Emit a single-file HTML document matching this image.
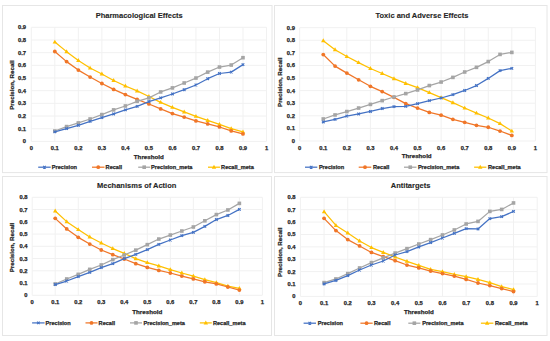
<!DOCTYPE html>
<html><head><meta charset="utf-8"><style>
html,body{margin:0;padding:0;background:#fff;width:550px;height:341px;overflow:hidden}
svg{display:block}
text{font-family:"Liberation Sans",sans-serif;font-weight:bold;fill:#262626;stroke:#262626;stroke-width:0.25px}
.tt{font-size:7.5px;stroke-width:0.12px}
.ax{font-size:6.2px}
.tk{font-size:5.8px}
.lg{font-size:5.6px}
</style></head><body>
<svg width="550" height="341" viewBox="0 0 550 341">
<rect width="550" height="341" fill="#fff"/>
<rect x="2.5" y="5.5" width="269.5" height="167.1" fill="#fff" stroke="#e6e6e6" stroke-width="1"/>
<path d="M31.3 141.4H266.5M31.3 128.72H266.5M31.3 116.04H266.5M31.3 103.37H266.5M31.3 90.69H266.5M31.3 78.01H266.5M31.3 65.33H266.5M31.3 52.66H266.5M31.3 39.98H266.5M31.3 27.3H266.5M31.3 27.3V141.4M54.82 27.3V141.4M78.34 27.3V141.4M101.86 27.3V141.4M125.38 27.3V141.4M148.9 27.3V141.4M172.42 27.3V141.4M195.94 27.3V141.4M219.46 27.3V141.4M242.98 27.3V141.4M266.5 27.3V141.4" stroke="#f1f1f1" stroke-width="1" fill="none"/>
<text x="26.1" y="143.4" class="tk" text-anchor="end">0</text>
<text x="26.1" y="130.72" class="tk" text-anchor="end">0.1</text>
<text x="26.1" y="118.04" class="tk" text-anchor="end">0.2</text>
<text x="26.1" y="105.37" class="tk" text-anchor="end">0.3</text>
<text x="26.1" y="92.69" class="tk" text-anchor="end">0.4</text>
<text x="26.1" y="80.01" class="tk" text-anchor="end">0.5</text>
<text x="26.1" y="67.33" class="tk" text-anchor="end">0.6</text>
<text x="26.1" y="54.66" class="tk" text-anchor="end">0.7</text>
<text x="26.1" y="41.98" class="tk" text-anchor="end">0.8</text>
<text x="26.1" y="29.3" class="tk" text-anchor="end">0.9</text>
<text x="31.3" y="149.6" class="tk" text-anchor="middle">0</text>
<text x="54.82" y="149.6" class="tk" text-anchor="middle">0.1</text>
<text x="78.34" y="149.6" class="tk" text-anchor="middle">0.2</text>
<text x="101.86" y="149.6" class="tk" text-anchor="middle">0.3</text>
<text x="125.38" y="149.6" class="tk" text-anchor="middle">0.4</text>
<text x="148.9" y="149.6" class="tk" text-anchor="middle">0.5</text>
<text x="172.42" y="149.6" class="tk" text-anchor="middle">0.6</text>
<text x="195.94" y="149.6" class="tk" text-anchor="middle">0.7</text>
<text x="219.46" y="149.6" class="tk" text-anchor="middle">0.8</text>
<text x="242.98" y="149.6" class="tk" text-anchor="middle">0.9</text>
<text x="266.5" y="149.6" class="tk" text-anchor="middle">1</text>
<text x="139.2" y="18.1" class="tt" text-anchor="middle">Pharmacological Effects</text>
<text x="148.8" y="158.9" class="ax" text-anchor="middle">Threshold</text>
<text transform="translate(14.1 85) rotate(-90)" class="ax" text-anchor="middle">Precision, Recall</text>
<polyline points="54.82,42.03 66.58,51.63 78.34,60.48 90.1,68.06 101.86,74.01 113.62,80.45 125.38,86.01 137.14,90.94 148.9,96.5 160.66,102.32 172.42,107.37 184.18,111.93 195.94,116.35 207.7,120.39 219.46,124.31 231.22,128.61 242.98,131.9" fill="none" stroke="#FFC000" stroke-width="1.25" stroke-linejoin="round"/>
<path d="M54.82 39.63L57.02 43.53L52.62 43.53Z" fill="#FFC000"/>
<path d="M66.58 49.23L68.78 53.13L64.38 53.13Z" fill="#FFC000"/>
<path d="M78.34 58.08L80.54 61.98L76.14 61.98Z" fill="#FFC000"/>
<path d="M90.1 65.66L92.3 69.56L87.9 69.56Z" fill="#FFC000"/>
<path d="M101.86 71.61L104.06 75.51L99.66 75.51Z" fill="#FFC000"/>
<path d="M113.62 78.05L115.82 81.95L111.42 81.95Z" fill="#FFC000"/>
<path d="M125.38 83.61L127.58 87.51L123.18 87.51Z" fill="#FFC000"/>
<path d="M137.14 88.54L139.34 92.44L134.94 92.44Z" fill="#FFC000"/>
<path d="M148.9 94.1L151.1 98L146.7 98Z" fill="#FFC000"/>
<path d="M160.66 99.92L162.86 103.82L158.46 103.82Z" fill="#FFC000"/>
<path d="M172.42 104.97L174.62 108.87L170.22 108.87Z" fill="#FFC000"/>
<path d="M184.18 109.53L186.38 113.43L181.98 113.43Z" fill="#FFC000"/>
<path d="M195.94 113.95L198.14 117.85L193.74 117.85Z" fill="#FFC000"/>
<path d="M207.7 117.99L209.9 121.89L205.5 121.89Z" fill="#FFC000"/>
<path d="M219.46 121.91L221.66 125.81L217.26 125.81Z" fill="#FFC000"/>
<path d="M231.22 126.21L233.42 130.11L229.02 130.11Z" fill="#FFC000"/>
<path d="M242.98 129.5L245.18 133.4L240.78 133.4Z" fill="#FFC000"/>
<polyline points="54.82,51.51 66.58,61.62 78.34,70.09 90.1,77.04 101.86,83.49 113.62,89.43 125.38,94.61 137.14,99.41 148.9,103.96 160.66,108.89 172.42,113.57 184.18,117.11 195.94,120.9 207.7,123.93 219.46,126.97 231.22,130.89 242.98,133.92" fill="none" stroke="#F07628" stroke-width="1.25" stroke-linejoin="round"/>
<circle cx="54.82" cy="51.51" r="1.9" fill="#F07628"/>
<circle cx="66.58" cy="61.62" r="1.9" fill="#F07628"/>
<circle cx="78.34" cy="70.09" r="1.9" fill="#F07628"/>
<circle cx="90.1" cy="77.04" r="1.9" fill="#F07628"/>
<circle cx="101.86" cy="83.49" r="1.9" fill="#F07628"/>
<circle cx="113.62" cy="89.43" r="1.9" fill="#F07628"/>
<circle cx="125.38" cy="94.61" r="1.9" fill="#F07628"/>
<circle cx="137.14" cy="99.41" r="1.9" fill="#F07628"/>
<circle cx="148.9" cy="103.96" r="1.9" fill="#F07628"/>
<circle cx="160.66" cy="108.89" r="1.9" fill="#F07628"/>
<circle cx="172.42" cy="113.57" r="1.9" fill="#F07628"/>
<circle cx="184.18" cy="117.11" r="1.9" fill="#F07628"/>
<circle cx="195.94" cy="120.9" r="1.9" fill="#F07628"/>
<circle cx="207.7" cy="123.93" r="1.9" fill="#F07628"/>
<circle cx="219.46" cy="126.97" r="1.9" fill="#F07628"/>
<circle cx="231.22" cy="130.89" r="1.9" fill="#F07628"/>
<circle cx="242.98" cy="133.92" r="1.9" fill="#F07628"/>
<polyline points="54.82,131.01 66.58,126.59 78.34,122.92 90.1,119 101.86,114.58 113.62,109.9 125.38,105.98 137.14,101.31 148.9,97.89 160.66,91.95 172.42,87.91 184.18,82.98 195.94,78.05 207.7,72.11 219.46,67.05 231.22,65.03 242.98,57.7" fill="none" stroke="#A5A5A5" stroke-width="1.25" stroke-linejoin="round"/>
<rect x="53.02" y="129.21" width="3.6" height="3.6" fill="#A5A5A5"/>
<rect x="64.78" y="124.79" width="3.6" height="3.6" fill="#A5A5A5"/>
<rect x="76.54" y="121.12" width="3.6" height="3.6" fill="#A5A5A5"/>
<rect x="88.3" y="117.2" width="3.6" height="3.6" fill="#A5A5A5"/>
<rect x="100.06" y="112.78" width="3.6" height="3.6" fill="#A5A5A5"/>
<rect x="111.82" y="108.1" width="3.6" height="3.6" fill="#A5A5A5"/>
<rect x="123.58" y="104.18" width="3.6" height="3.6" fill="#A5A5A5"/>
<rect x="135.34" y="99.51" width="3.6" height="3.6" fill="#A5A5A5"/>
<rect x="147.1" y="96.09" width="3.6" height="3.6" fill="#A5A5A5"/>
<rect x="158.86" y="90.15" width="3.6" height="3.6" fill="#A5A5A5"/>
<rect x="170.62" y="86.11" width="3.6" height="3.6" fill="#A5A5A5"/>
<rect x="182.38" y="81.18" width="3.6" height="3.6" fill="#A5A5A5"/>
<rect x="194.14" y="76.25" width="3.6" height="3.6" fill="#A5A5A5"/>
<rect x="205.9" y="70.31" width="3.6" height="3.6" fill="#A5A5A5"/>
<rect x="217.66" y="65.25" width="3.6" height="3.6" fill="#A5A5A5"/>
<rect x="229.42" y="63.23" width="3.6" height="3.6" fill="#A5A5A5"/>
<rect x="241.18" y="55.9" width="3.6" height="3.6" fill="#A5A5A5"/>
<polyline points="54.82,131.9 66.58,128.61 78.34,125.32 90.1,121.41 101.86,117.61 113.62,113.95 125.38,109.9 137.14,106.36 148.9,101.56 160.66,97.89 172.42,93.98 184.18,89.68 195.94,85 207.7,78.68 219.46,73.5 231.22,72.11 242.98,64.65" fill="none" stroke="#4472C4" stroke-width="1.25" stroke-linejoin="round"/>
<path d="M53.52 130.6L56.12 133.2M53.52 133.2L56.12 130.6" stroke="#4472C4" stroke-width="1.15" fill="none"/>
<path d="M65.28 127.31L67.88 129.91M65.28 129.91L67.88 127.31" stroke="#4472C4" stroke-width="1.15" fill="none"/>
<path d="M77.04 124.02L79.64 126.62M77.04 126.62L79.64 124.02" stroke="#4472C4" stroke-width="1.15" fill="none"/>
<path d="M88.8 120.11L91.4 122.71M88.8 122.71L91.4 120.11" stroke="#4472C4" stroke-width="1.15" fill="none"/>
<path d="M100.56 116.31L103.16 118.91M100.56 118.91L103.16 116.31" stroke="#4472C4" stroke-width="1.15" fill="none"/>
<path d="M112.32 112.65L114.92 115.25M112.32 115.25L114.92 112.65" stroke="#4472C4" stroke-width="1.15" fill="none"/>
<path d="M124.08 108.6L126.68 111.2M124.08 111.2L126.68 108.6" stroke="#4472C4" stroke-width="1.15" fill="none"/>
<path d="M135.84 105.06L138.44 107.66M135.84 107.66L138.44 105.06" stroke="#4472C4" stroke-width="1.15" fill="none"/>
<path d="M147.6 100.26L150.2 102.86M147.6 102.86L150.2 100.26" stroke="#4472C4" stroke-width="1.15" fill="none"/>
<path d="M159.36 96.59L161.96 99.19M159.36 99.19L161.96 96.59" stroke="#4472C4" stroke-width="1.15" fill="none"/>
<path d="M171.12 92.68L173.72 95.28M171.12 95.28L173.72 92.68" stroke="#4472C4" stroke-width="1.15" fill="none"/>
<path d="M182.88 88.38L185.48 90.98M182.88 90.98L185.48 88.38" stroke="#4472C4" stroke-width="1.15" fill="none"/>
<path d="M194.64 83.7L197.24 86.3M194.64 86.3L197.24 83.7" stroke="#4472C4" stroke-width="1.15" fill="none"/>
<path d="M206.4 77.38L209 79.98M206.4 79.98L209 77.38" stroke="#4472C4" stroke-width="1.15" fill="none"/>
<path d="M218.16 72.2L220.76 74.8M218.16 74.8L220.76 72.2" stroke="#4472C4" stroke-width="1.15" fill="none"/>
<path d="M229.92 70.81L232.52 73.41M229.92 73.41L232.52 70.81" stroke="#4472C4" stroke-width="1.15" fill="none"/>
<path d="M241.68 63.35L244.28 65.95M241.68 65.95L244.28 63.35" stroke="#4472C4" stroke-width="1.15" fill="none"/>
<path d="M38.2 167.2H50.7" stroke="#4472C4" stroke-width="1.25"/>
<path d="M43.15 165.9L45.75 168.5M43.15 168.5L45.75 165.9" stroke="#4472C4" stroke-width="1.15" fill="none"/>
<text x="51.8" y="169.2" class="lg">Precision</text>
<path d="M92 167.2H104.5" stroke="#F07628" stroke-width="1.25"/>
<circle cx="98.25" cy="167.2" r="1.9" fill="#F07628"/>
<text x="105.6" y="169.2" class="lg">Recall</text>
<path d="M138.2 167.2H150.2" stroke="#A5A5A5" stroke-width="1.25"/>
<rect x="142.4" y="165.4" width="3.6" height="3.6" fill="#A5A5A5"/>
<text x="151" y="169.2" class="lg">Precision_meta</text>
<path d="M208 167.2H220" stroke="#FFC000" stroke-width="1.25"/>
<path d="M214 164.8L216.2 168.7L211.8 168.7Z" fill="#FFC000"/>
<text x="221.1" y="169.2" class="lg">Recall_meta</text>
<rect x="274.5" y="5.5" width="272.5" height="167.1" fill="#fff" stroke="#e6e6e6" stroke-width="1"/>
<path d="M299.7 141H535.4M299.7 128.41H535.4M299.7 115.82H535.4M299.7 103.23H535.4M299.7 90.64H535.4M299.7 78.06H535.4M299.7 65.47H535.4M299.7 52.88H535.4M299.7 40.29H535.4M299.7 27.7H535.4M299.7 27.7V141M323.27 27.7V141M346.84 27.7V141M370.41 27.7V141M393.98 27.7V141M417.55 27.7V141M441.12 27.7V141M464.69 27.7V141M488.26 27.7V141M511.83 27.7V141M535.4 27.7V141" stroke="#f1f1f1" stroke-width="1" fill="none"/>
<text x="294.9" y="143" class="tk" text-anchor="end">0</text>
<text x="294.9" y="130.41" class="tk" text-anchor="end">0.1</text>
<text x="294.9" y="117.82" class="tk" text-anchor="end">0.2</text>
<text x="294.9" y="105.23" class="tk" text-anchor="end">0.3</text>
<text x="294.9" y="92.64" class="tk" text-anchor="end">0.4</text>
<text x="294.9" y="80.06" class="tk" text-anchor="end">0.5</text>
<text x="294.9" y="67.47" class="tk" text-anchor="end">0.6</text>
<text x="294.9" y="54.88" class="tk" text-anchor="end">0.7</text>
<text x="294.9" y="42.29" class="tk" text-anchor="end">0.8</text>
<text x="294.9" y="29.7" class="tk" text-anchor="end">0.9</text>
<text x="299.7" y="149.6" class="tk" text-anchor="middle">0</text>
<text x="323.27" y="149.6" class="tk" text-anchor="middle">0.1</text>
<text x="346.84" y="149.6" class="tk" text-anchor="middle">0.2</text>
<text x="370.41" y="149.6" class="tk" text-anchor="middle">0.3</text>
<text x="393.98" y="149.6" class="tk" text-anchor="middle">0.4</text>
<text x="417.55" y="149.6" class="tk" text-anchor="middle">0.5</text>
<text x="441.12" y="149.6" class="tk" text-anchor="middle">0.6</text>
<text x="464.69" y="149.6" class="tk" text-anchor="middle">0.7</text>
<text x="488.26" y="149.6" class="tk" text-anchor="middle">0.8</text>
<text x="511.83" y="149.6" class="tk" text-anchor="middle">0.9</text>
<text x="535.4" y="149.6" class="tk" text-anchor="middle">1</text>
<text x="422" y="18.1" class="tt" text-anchor="middle">Toxic and Adverse Effects</text>
<text x="416.7" y="157.7" class="ax" text-anchor="middle">Threshold</text>
<text transform="translate(281.7 82.2) rotate(-90)" class="ax" text-anchor="middle">Precision, Recall</text>
<polyline points="323.27,40.72 335.06,49.76 346.84,56.55 358.62,62.57 370.41,68.48 382.19,73.5 393.98,78.65 405.76,83.42 417.55,87.57 429.33,92.59 441.12,97.62 452.9,102.64 464.69,108.04 476.47,113.07 488.26,117.96 500.04,123.62 511.83,131.03" fill="none" stroke="#FFC000" stroke-width="1.25" stroke-linejoin="round"/>
<path d="M323.27 38.32L325.47 42.22L321.07 42.22Z" fill="#FFC000"/>
<path d="M335.06 47.36L337.25 51.26L332.86 51.26Z" fill="#FFC000"/>
<path d="M346.84 54.15L349.04 58.05L344.64 58.05Z" fill="#FFC000"/>
<path d="M358.62 60.17L360.82 64.07L356.43 64.07Z" fill="#FFC000"/>
<path d="M370.41 66.08L372.61 69.98L368.21 69.98Z" fill="#FFC000"/>
<path d="M382.19 71.1L384.39 75L380 75Z" fill="#FFC000"/>
<path d="M393.98 76.25L396.18 80.15L391.78 80.15Z" fill="#FFC000"/>
<path d="M405.76 81.02L407.96 84.92L403.56 84.92Z" fill="#FFC000"/>
<path d="M417.55 85.17L419.75 89.07L415.35 89.07Z" fill="#FFC000"/>
<path d="M429.33 90.19L431.53 94.09L427.13 94.09Z" fill="#FFC000"/>
<path d="M441.12 95.22L443.32 99.12L438.92 99.12Z" fill="#FFC000"/>
<path d="M452.9 100.24L455.1 104.14L450.7 104.14Z" fill="#FFC000"/>
<path d="M464.69 105.64L466.89 109.54L462.49 109.54Z" fill="#FFC000"/>
<path d="M476.47 110.67L478.67 114.57L474.27 114.57Z" fill="#FFC000"/>
<path d="M488.26 115.56L490.46 119.46L486.06 119.46Z" fill="#FFC000"/>
<path d="M500.04 121.22L502.24 125.12L497.84 125.12Z" fill="#FFC000"/>
<path d="M511.83 128.63L514.03 132.53L509.63 132.53Z" fill="#FFC000"/>
<polyline points="323.27,54.54 335.06,66.09 346.84,73.12 358.62,79.78 370.41,86.31 382.19,91.59 393.98,97.37 405.76,103.65 417.55,108.04 429.33,112.44 441.12,115.2 452.9,119.35 464.69,122.36 476.47,125.37 488.26,127.26 500.04,131.03 511.83,135.42" fill="none" stroke="#F07628" stroke-width="1.25" stroke-linejoin="round"/>
<circle cx="323.27" cy="54.54" r="1.9" fill="#F07628"/>
<circle cx="335.06" cy="66.09" r="1.9" fill="#F07628"/>
<circle cx="346.84" cy="73.12" r="1.9" fill="#F07628"/>
<circle cx="358.62" cy="79.78" r="1.9" fill="#F07628"/>
<circle cx="370.41" cy="86.31" r="1.9" fill="#F07628"/>
<circle cx="382.19" cy="91.59" r="1.9" fill="#F07628"/>
<circle cx="393.98" cy="97.37" r="1.9" fill="#F07628"/>
<circle cx="405.76" cy="103.65" r="1.9" fill="#F07628"/>
<circle cx="417.55" cy="108.04" r="1.9" fill="#F07628"/>
<circle cx="429.33" cy="112.44" r="1.9" fill="#F07628"/>
<circle cx="441.12" cy="115.2" r="1.9" fill="#F07628"/>
<circle cx="452.9" cy="119.35" r="1.9" fill="#F07628"/>
<circle cx="464.69" cy="122.36" r="1.9" fill="#F07628"/>
<circle cx="476.47" cy="125.37" r="1.9" fill="#F07628"/>
<circle cx="488.26" cy="127.26" r="1.9" fill="#F07628"/>
<circle cx="500.04" cy="131.03" r="1.9" fill="#F07628"/>
<circle cx="511.83" cy="135.42" r="1.9" fill="#F07628"/>
<polyline points="323.27,118.97 335.06,114.95 346.84,111.56 358.62,108.04 370.41,104.4 382.19,100.63 393.98,96.99 405.76,93.6 417.55,89.96 429.33,85.56 441.12,82.04 452.9,77.4 464.69,71.99 476.47,67.35 488.26,61.57 500.04,54.41 511.83,52.4" fill="none" stroke="#A5A5A5" stroke-width="1.25" stroke-linejoin="round"/>
<rect x="321.47" y="117.17" width="3.6" height="3.6" fill="#A5A5A5"/>
<rect x="333.25" y="113.15" width="3.6" height="3.6" fill="#A5A5A5"/>
<rect x="345.04" y="109.76" width="3.6" height="3.6" fill="#A5A5A5"/>
<rect x="356.82" y="106.24" width="3.6" height="3.6" fill="#A5A5A5"/>
<rect x="368.61" y="102.6" width="3.6" height="3.6" fill="#A5A5A5"/>
<rect x="380.39" y="98.83" width="3.6" height="3.6" fill="#A5A5A5"/>
<rect x="392.18" y="95.19" width="3.6" height="3.6" fill="#A5A5A5"/>
<rect x="403.96" y="91.8" width="3.6" height="3.6" fill="#A5A5A5"/>
<rect x="415.75" y="88.16" width="3.6" height="3.6" fill="#A5A5A5"/>
<rect x="427.53" y="83.76" width="3.6" height="3.6" fill="#A5A5A5"/>
<rect x="439.32" y="80.24" width="3.6" height="3.6" fill="#A5A5A5"/>
<rect x="451.1" y="75.6" width="3.6" height="3.6" fill="#A5A5A5"/>
<rect x="462.89" y="70.19" width="3.6" height="3.6" fill="#A5A5A5"/>
<rect x="474.67" y="65.55" width="3.6" height="3.6" fill="#A5A5A5"/>
<rect x="486.46" y="59.77" width="3.6" height="3.6" fill="#A5A5A5"/>
<rect x="498.24" y="52.61" width="3.6" height="3.6" fill="#A5A5A5"/>
<rect x="510.03" y="50.6" width="3.6" height="3.6" fill="#A5A5A5"/>
<polyline points="323.27,121.98 335.06,119.35 346.84,116.08 358.62,113.94 370.41,111.43 382.19,108.54 393.98,106.66 405.76,106.41 417.55,103.65 429.33,100.63 441.12,97.99 452.9,94.6 464.69,90.46 476.47,85.56 488.26,78.4 500.04,70.61 511.83,68.35" fill="none" stroke="#4472C4" stroke-width="1.25" stroke-linejoin="round"/>
<path d="M321.97 120.68L324.57 123.28M321.97 123.28L324.57 120.68" stroke="#4472C4" stroke-width="1.15" fill="none"/>
<path d="M333.75 118.05L336.36 120.65M333.75 120.65L336.36 118.05" stroke="#4472C4" stroke-width="1.15" fill="none"/>
<path d="M345.54 114.78L348.14 117.38M345.54 117.38L348.14 114.78" stroke="#4472C4" stroke-width="1.15" fill="none"/>
<path d="M357.32 112.64L359.93 115.24M357.32 115.24L359.93 112.64" stroke="#4472C4" stroke-width="1.15" fill="none"/>
<path d="M369.11 110.13L371.71 112.73M369.11 112.73L371.71 110.13" stroke="#4472C4" stroke-width="1.15" fill="none"/>
<path d="M380.89 107.24L383.5 109.84M380.89 109.84L383.5 107.24" stroke="#4472C4" stroke-width="1.15" fill="none"/>
<path d="M392.68 105.36L395.28 107.96M392.68 107.96L395.28 105.36" stroke="#4472C4" stroke-width="1.15" fill="none"/>
<path d="M404.46 105.11L407.06 107.71M404.46 107.71L407.06 105.11" stroke="#4472C4" stroke-width="1.15" fill="none"/>
<path d="M416.25 102.35L418.85 104.95M416.25 104.95L418.85 102.35" stroke="#4472C4" stroke-width="1.15" fill="none"/>
<path d="M428.03 99.33L430.63 101.93M428.03 101.93L430.63 99.33" stroke="#4472C4" stroke-width="1.15" fill="none"/>
<path d="M439.82 96.69L442.42 99.29M439.82 99.29L442.42 96.69" stroke="#4472C4" stroke-width="1.15" fill="none"/>
<path d="M451.6 93.3L454.2 95.9M451.6 95.9L454.2 93.3" stroke="#4472C4" stroke-width="1.15" fill="none"/>
<path d="M463.39 89.16L465.99 91.76M463.39 91.76L465.99 89.16" stroke="#4472C4" stroke-width="1.15" fill="none"/>
<path d="M475.17 84.26L477.77 86.86M475.17 86.86L477.77 84.26" stroke="#4472C4" stroke-width="1.15" fill="none"/>
<path d="M486.96 77.1L489.56 79.7M486.96 79.7L489.56 77.1" stroke="#4472C4" stroke-width="1.15" fill="none"/>
<path d="M498.74 69.31L501.34 71.91M498.74 71.91L501.34 69.31" stroke="#4472C4" stroke-width="1.15" fill="none"/>
<path d="M510.53 67.05L513.13 69.65M510.53 69.65L513.13 67.05" stroke="#4472C4" stroke-width="1.15" fill="none"/>
<path d="M305 167.2H317.3" stroke="#4472C4" stroke-width="1.25"/>
<path d="M309.85 165.9L312.45 168.5M309.85 168.5L312.45 165.9" stroke="#4472C4" stroke-width="1.15" fill="none"/>
<text x="318.9" y="169.2" class="lg">Precision</text>
<path d="M358.7 167.2H371.3" stroke="#F07628" stroke-width="1.25"/>
<circle cx="365" cy="167.2" r="1.9" fill="#F07628"/>
<text x="372.9" y="169.2" class="lg">Recall</text>
<path d="M404 167.2H416.5" stroke="#A5A5A5" stroke-width="1.25"/>
<rect x="408.45" y="165.4" width="3.6" height="3.6" fill="#A5A5A5"/>
<text x="417.9" y="169.2" class="lg">Precision_meta</text>
<path d="M474.1 167.2H486.4" stroke="#FFC000" stroke-width="1.25"/>
<path d="M480.25 164.8L482.45 168.7L478.05 168.7Z" fill="#FFC000"/>
<text x="488" y="169.2" class="lg">Recall_meta</text>
<rect x="2.5" y="176.5" width="269" height="159" fill="#fff" stroke="#e6e6e6" stroke-width="1"/>
<path d="M32.2 295.3H262.4M32.2 283.05H262.4M32.2 270.8H262.4M32.2 258.55H262.4M32.2 246.3H262.4M32.2 234.05H262.4M32.2 221.8H262.4M32.2 209.55H262.4M32.2 197.3H262.4M32.2 197.3V295.3M55.22 197.3V295.3M78.24 197.3V295.3M101.26 197.3V295.3M124.28 197.3V295.3M147.3 197.3V295.3M170.32 197.3V295.3M193.34 197.3V295.3M216.36 197.3V295.3M239.38 197.3V295.3M262.4 197.3V295.3" stroke="#f1f1f1" stroke-width="1" fill="none"/>
<text x="27.6" y="297.3" class="tk" text-anchor="end">0</text>
<text x="27.6" y="285.05" class="tk" text-anchor="end">0.1</text>
<text x="27.6" y="272.8" class="tk" text-anchor="end">0.2</text>
<text x="27.6" y="260.55" class="tk" text-anchor="end">0.3</text>
<text x="27.6" y="248.3" class="tk" text-anchor="end">0.4</text>
<text x="27.6" y="236.05" class="tk" text-anchor="end">0.5</text>
<text x="27.6" y="223.8" class="tk" text-anchor="end">0.6</text>
<text x="27.6" y="211.55" class="tk" text-anchor="end">0.7</text>
<text x="27.6" y="199.3" class="tk" text-anchor="end">0.8</text>
<text x="32.2" y="304.2" class="tk" text-anchor="middle">0</text>
<text x="55.22" y="304.2" class="tk" text-anchor="middle">0.1</text>
<text x="78.24" y="304.2" class="tk" text-anchor="middle">0.2</text>
<text x="101.26" y="304.2" class="tk" text-anchor="middle">0.3</text>
<text x="124.28" y="304.2" class="tk" text-anchor="middle">0.4</text>
<text x="147.3" y="304.2" class="tk" text-anchor="middle">0.5</text>
<text x="170.32" y="304.2" class="tk" text-anchor="middle">0.6</text>
<text x="193.34" y="304.2" class="tk" text-anchor="middle">0.7</text>
<text x="216.36" y="304.2" class="tk" text-anchor="middle">0.8</text>
<text x="239.38" y="304.2" class="tk" text-anchor="middle">0.9</text>
<text x="262.4" y="304.2" class="tk" text-anchor="middle">1</text>
<text x="136.7" y="188.2" class="tt" text-anchor="middle">Mechanisms of Action</text>
<text x="147.25" y="313.8" class="ax" text-anchor="middle">Threshold</text>
<text transform="translate(14.1 247.5) rotate(-90)" class="ax" text-anchor="middle">Precision, Recall</text>
<polyline points="55.22,210.94 66.73,221.65 78.24,229.56 89.75,236.98 101.26,242.95 112.77,248.55 124.28,253.41 135.79,258.65 147.3,262.54 158.81,265.95 170.32,269.6 181.83,273.01 193.34,276.05 204.85,279.7 216.36,282.62 227.87,286.03 239.38,288.34" fill="none" stroke="#FFC000" stroke-width="1.25" stroke-linejoin="round"/>
<path d="M55.22 208.54L57.42 212.44L53.02 212.44Z" fill="#FFC000"/>
<path d="M66.73 219.25L68.93 223.15L64.53 223.15Z" fill="#FFC000"/>
<path d="M78.24 227.16L80.44 231.06L76.04 231.06Z" fill="#FFC000"/>
<path d="M89.75 234.58L91.95 238.48L87.55 238.48Z" fill="#FFC000"/>
<path d="M101.26 240.55L103.46 244.45L99.06 244.45Z" fill="#FFC000"/>
<path d="M112.77 246.15L114.97 250.05L110.57 250.05Z" fill="#FFC000"/>
<path d="M124.28 251.01L126.48 254.91L122.08 254.91Z" fill="#FFC000"/>
<path d="M135.79 256.25L137.99 260.15L133.59 260.15Z" fill="#FFC000"/>
<path d="M147.3 260.14L149.5 264.04L145.1 264.04Z" fill="#FFC000"/>
<path d="M158.81 263.55L161.01 267.45L156.61 267.45Z" fill="#FFC000"/>
<path d="M170.32 267.2L172.52 271.1L168.12 271.1Z" fill="#FFC000"/>
<path d="M181.83 270.61L184.03 274.51L179.63 274.51Z" fill="#FFC000"/>
<path d="M193.34 273.65L195.54 277.55L191.14 277.55Z" fill="#FFC000"/>
<path d="M204.85 277.3L207.05 281.2L202.65 281.2Z" fill="#FFC000"/>
<path d="M216.36 280.22L218.56 284.12L214.16 284.12Z" fill="#FFC000"/>
<path d="M227.87 283.63L230.07 287.53L225.67 287.53Z" fill="#FFC000"/>
<path d="M239.38 285.94L241.58 289.84L237.18 289.84Z" fill="#FFC000"/>
<polyline points="55.22,218.36 66.73,228.95 78.24,237.35 89.75,244.04 101.26,250.01 112.77,254.63 124.28,259.01 135.79,263.64 147.3,267.41 158.81,270.45 170.32,273.01 181.83,276.05 193.34,278.97 204.85,281.77 216.36,283.96 227.87,287 239.38,290.05" fill="none" stroke="#F07628" stroke-width="1.25" stroke-linejoin="round"/>
<circle cx="55.22" cy="218.36" r="1.9" fill="#F07628"/>
<circle cx="66.73" cy="228.95" r="1.9" fill="#F07628"/>
<circle cx="78.24" cy="237.35" r="1.9" fill="#F07628"/>
<circle cx="89.75" cy="244.04" r="1.9" fill="#F07628"/>
<circle cx="101.26" cy="250.01" r="1.9" fill="#F07628"/>
<circle cx="112.77" cy="254.63" r="1.9" fill="#F07628"/>
<circle cx="124.28" cy="259.01" r="1.9" fill="#F07628"/>
<circle cx="135.79" cy="263.64" r="1.9" fill="#F07628"/>
<circle cx="147.3" cy="267.41" r="1.9" fill="#F07628"/>
<circle cx="158.81" cy="270.45" r="1.9" fill="#F07628"/>
<circle cx="170.32" cy="273.01" r="1.9" fill="#F07628"/>
<circle cx="181.83" cy="276.05" r="1.9" fill="#F07628"/>
<circle cx="193.34" cy="278.97" r="1.9" fill="#F07628"/>
<circle cx="204.85" cy="281.77" r="1.9" fill="#F07628"/>
<circle cx="216.36" cy="283.96" r="1.9" fill="#F07628"/>
<circle cx="227.87" cy="287" r="1.9" fill="#F07628"/>
<circle cx="239.38" cy="290.05" r="1.9" fill="#F07628"/>
<polyline points="55.22,283.96 66.73,278.97 78.24,274.35 89.75,269.36 101.26,264.97 112.77,259.62 124.28,255 135.79,250.13 147.3,244.65 158.81,239.05 170.32,235.04 181.83,231.02 193.34,227 204.85,220.8 216.36,214.59 227.87,209.97 239.38,203.39" fill="none" stroke="#A5A5A5" stroke-width="1.25" stroke-linejoin="round"/>
<rect x="53.42" y="282.16" width="3.6" height="3.6" fill="#A5A5A5"/>
<rect x="64.93" y="277.17" width="3.6" height="3.6" fill="#A5A5A5"/>
<rect x="76.44" y="272.55" width="3.6" height="3.6" fill="#A5A5A5"/>
<rect x="87.95" y="267.56" width="3.6" height="3.6" fill="#A5A5A5"/>
<rect x="99.46" y="263.17" width="3.6" height="3.6" fill="#A5A5A5"/>
<rect x="110.97" y="257.82" width="3.6" height="3.6" fill="#A5A5A5"/>
<rect x="122.48" y="253.2" width="3.6" height="3.6" fill="#A5A5A5"/>
<rect x="133.99" y="248.33" width="3.6" height="3.6" fill="#A5A5A5"/>
<rect x="145.5" y="242.85" width="3.6" height="3.6" fill="#A5A5A5"/>
<rect x="157.01" y="237.25" width="3.6" height="3.6" fill="#A5A5A5"/>
<rect x="168.52" y="233.24" width="3.6" height="3.6" fill="#A5A5A5"/>
<rect x="180.03" y="229.22" width="3.6" height="3.6" fill="#A5A5A5"/>
<rect x="191.54" y="225.2" width="3.6" height="3.6" fill="#A5A5A5"/>
<rect x="203.05" y="219" width="3.6" height="3.6" fill="#A5A5A5"/>
<rect x="214.56" y="212.79" width="3.6" height="3.6" fill="#A5A5A5"/>
<rect x="226.07" y="208.17" width="3.6" height="3.6" fill="#A5A5A5"/>
<rect x="237.58" y="201.59" width="3.6" height="3.6" fill="#A5A5A5"/>
<polyline points="55.22,284.57 66.73,281.04 78.24,276.66 89.75,272.4 101.26,267.65 112.77,263.64 124.28,258.65 135.79,254.39 147.3,249.64 158.81,244.41 170.32,240.03 181.83,235.65 193.34,232.36 204.85,226.4 216.36,219.58 227.87,215.44 239.38,209.36" fill="none" stroke="#4472C4" stroke-width="1.25" stroke-linejoin="round"/>
<path d="M53.92 283.27L56.52 285.87M53.92 285.87L56.52 283.27" stroke="#4472C4" stroke-width="1.15" fill="none"/>
<path d="M65.43 279.74L68.03 282.34M65.43 282.34L68.03 279.74" stroke="#4472C4" stroke-width="1.15" fill="none"/>
<path d="M76.94 275.36L79.54 277.96M76.94 277.96L79.54 275.36" stroke="#4472C4" stroke-width="1.15" fill="none"/>
<path d="M88.45 271.1L91.05 273.7M88.45 273.7L91.05 271.1" stroke="#4472C4" stroke-width="1.15" fill="none"/>
<path d="M99.96 266.35L102.56 268.95M99.96 268.95L102.56 266.35" stroke="#4472C4" stroke-width="1.15" fill="none"/>
<path d="M111.47 262.34L114.07 264.94M111.47 264.94L114.07 262.34" stroke="#4472C4" stroke-width="1.15" fill="none"/>
<path d="M122.98 257.35L125.58 259.95M122.98 259.95L125.58 257.35" stroke="#4472C4" stroke-width="1.15" fill="none"/>
<path d="M134.49 253.09L137.09 255.69M134.49 255.69L137.09 253.09" stroke="#4472C4" stroke-width="1.15" fill="none"/>
<path d="M146 248.34L148.6 250.94M146 250.94L148.6 248.34" stroke="#4472C4" stroke-width="1.15" fill="none"/>
<path d="M157.51 243.11L160.11 245.71M157.51 245.71L160.11 243.11" stroke="#4472C4" stroke-width="1.15" fill="none"/>
<path d="M169.02 238.73L171.62 241.33M169.02 241.33L171.62 238.73" stroke="#4472C4" stroke-width="1.15" fill="none"/>
<path d="M180.53 234.35L183.13 236.95M180.53 236.95L183.13 234.35" stroke="#4472C4" stroke-width="1.15" fill="none"/>
<path d="M192.04 231.06L194.64 233.66M192.04 233.66L194.64 231.06" stroke="#4472C4" stroke-width="1.15" fill="none"/>
<path d="M203.55 225.1L206.15 227.7M203.55 227.7L206.15 225.1" stroke="#4472C4" stroke-width="1.15" fill="none"/>
<path d="M215.06 218.28L217.66 220.88M215.06 220.88L217.66 218.28" stroke="#4472C4" stroke-width="1.15" fill="none"/>
<path d="M226.57 214.14L229.17 216.74M226.57 216.74L229.17 214.14" stroke="#4472C4" stroke-width="1.15" fill="none"/>
<path d="M238.08 208.06L240.68 210.66M238.08 210.66L240.68 208.06" stroke="#4472C4" stroke-width="1.15" fill="none"/>
<path d="M32.1 322.9H44.6" stroke="#4472C4" stroke-width="1.25"/>
<path d="M37.05 321.6L39.65 324.2M37.05 324.2L39.65 321.6" stroke="#4472C4" stroke-width="1.15" fill="none"/>
<text x="45.5" y="324.9" class="lg">Precision</text>
<path d="M85.5 322.9H97.5" stroke="#F07628" stroke-width="1.25"/>
<circle cx="91.5" cy="322.9" r="1.9" fill="#F07628"/>
<text x="98.6" y="324.9" class="lg">Recall</text>
<path d="M130 322.9H142" stroke="#A5A5A5" stroke-width="1.25"/>
<rect x="134.2" y="321.1" width="3.6" height="3.6" fill="#A5A5A5"/>
<text x="143.6" y="324.9" class="lg">Precision_meta</text>
<path d="M199.8 322.9H211.8" stroke="#FFC000" stroke-width="1.25"/>
<path d="M205.8 320.5L208 324.4L203.6 324.4Z" fill="#FFC000"/>
<text x="212.9" y="324.9" class="lg">Recall_meta</text>
<rect x="274.5" y="176.5" width="272.5" height="159" fill="#fff" stroke="#e6e6e6" stroke-width="1"/>
<path d="M300.4 296.4H537.2M300.4 284.01H537.2M300.4 271.62H537.2M300.4 259.24H537.2M300.4 246.85H537.2M300.4 234.46H537.2M300.4 222.07H537.2M300.4 209.69H537.2M300.4 197.3H537.2M300.4 197.3V296.4M324.08 197.3V296.4M347.76 197.3V296.4M371.44 197.3V296.4M395.12 197.3V296.4M418.8 197.3V296.4M442.48 197.3V296.4M466.16 197.3V296.4M489.84 197.3V296.4M513.52 197.3V296.4M537.2 197.3V296.4" stroke="#f1f1f1" stroke-width="1" fill="none"/>
<text x="295.6" y="298.4" class="tk" text-anchor="end">0</text>
<text x="295.6" y="286.01" class="tk" text-anchor="end">0.1</text>
<text x="295.6" y="273.62" class="tk" text-anchor="end">0.2</text>
<text x="295.6" y="261.24" class="tk" text-anchor="end">0.3</text>
<text x="295.6" y="248.85" class="tk" text-anchor="end">0.4</text>
<text x="295.6" y="236.46" class="tk" text-anchor="end">0.5</text>
<text x="295.6" y="224.07" class="tk" text-anchor="end">0.6</text>
<text x="295.6" y="211.69" class="tk" text-anchor="end">0.7</text>
<text x="295.6" y="199.3" class="tk" text-anchor="end">0.8</text>
<text x="300.4" y="304.6" class="tk" text-anchor="middle">0</text>
<text x="324.08" y="304.6" class="tk" text-anchor="middle">0.1</text>
<text x="347.76" y="304.6" class="tk" text-anchor="middle">0.2</text>
<text x="371.44" y="304.6" class="tk" text-anchor="middle">0.3</text>
<text x="395.12" y="304.6" class="tk" text-anchor="middle">0.4</text>
<text x="418.8" y="304.6" class="tk" text-anchor="middle">0.5</text>
<text x="442.48" y="304.6" class="tk" text-anchor="middle">0.6</text>
<text x="466.16" y="304.6" class="tk" text-anchor="middle">0.7</text>
<text x="489.84" y="304.6" class="tk" text-anchor="middle">0.8</text>
<text x="513.52" y="304.6" class="tk" text-anchor="middle">0.9</text>
<text x="537.2" y="304.6" class="tk" text-anchor="middle">1</text>
<text x="410.6" y="187.6" class="tt" text-anchor="middle">Antitargets</text>
<text x="418.9" y="313.8" class="ax" text-anchor="middle">Threshold</text>
<text transform="translate(281.8 252.2) rotate(-90)" class="ax" text-anchor="middle">Precision, Recall</text>
<polyline points="324.08,211.63 335.92,225.44 347.76,233.01 359.6,240.95 371.44,247.55 383.28,252.44 395.12,256.96 406.96,261.36 418.8,265.39 430.64,269.43 442.48,271.63 454.32,274.44 466.16,276.64 478,279.45 489.84,282.62 501.68,286.66 513.52,289.59" fill="none" stroke="#FFC000" stroke-width="1.25" stroke-linejoin="round"/>
<path d="M324.08 209.23L326.28 213.13L321.88 213.13Z" fill="#FFC000"/>
<path d="M335.92 223.03L338.12 226.94L333.72 226.94Z" fill="#FFC000"/>
<path d="M347.76 230.61L349.96 234.51L345.56 234.51Z" fill="#FFC000"/>
<path d="M359.6 238.55L361.8 242.45L357.4 242.45Z" fill="#FFC000"/>
<path d="M371.44 245.15L373.64 249.05L369.24 249.05Z" fill="#FFC000"/>
<path d="M383.28 250.04L385.48 253.94L381.08 253.94Z" fill="#FFC000"/>
<path d="M395.12 254.56L397.32 258.46L392.92 258.46Z" fill="#FFC000"/>
<path d="M406.96 258.96L409.16 262.86L404.76 262.86Z" fill="#FFC000"/>
<path d="M418.8 262.99L421 266.89L416.6 266.89Z" fill="#FFC000"/>
<path d="M430.64 267.03L432.84 270.93L428.44 270.93Z" fill="#FFC000"/>
<path d="M442.48 269.23L444.68 273.13L440.28 273.13Z" fill="#FFC000"/>
<path d="M454.32 272.04L456.52 275.94L452.12 275.94Z" fill="#FFC000"/>
<path d="M466.16 274.24L468.36 278.14L463.96 278.14Z" fill="#FFC000"/>
<path d="M478 277.05L480.2 280.95L475.8 280.95Z" fill="#FFC000"/>
<path d="M489.84 280.22L492.04 284.12L487.64 284.12Z" fill="#FFC000"/>
<path d="M501.68 284.26L503.88 288.16L499.48 288.16Z" fill="#FFC000"/>
<path d="M513.52 287.19L515.72 291.09L511.32 291.09Z" fill="#FFC000"/>
<polyline points="324.08,218.35 335.92,230.57 347.76,239.61 359.6,245.96 371.44,252.44 383.28,256.6 395.12,260.63 406.96,265.03 418.8,267.96 430.64,271.02 442.48,273.58 454.32,276.03 466.16,279.45 478,282.99 489.84,285.56 501.68,288.61 513.52,291.55" fill="none" stroke="#F07628" stroke-width="1.25" stroke-linejoin="round"/>
<circle cx="324.08" cy="218.35" r="1.9" fill="#F07628"/>
<circle cx="335.92" cy="230.57" r="1.9" fill="#F07628"/>
<circle cx="347.76" cy="239.61" r="1.9" fill="#F07628"/>
<circle cx="359.6" cy="245.96" r="1.9" fill="#F07628"/>
<circle cx="371.44" cy="252.44" r="1.9" fill="#F07628"/>
<circle cx="383.28" cy="256.6" r="1.9" fill="#F07628"/>
<circle cx="395.12" cy="260.63" r="1.9" fill="#F07628"/>
<circle cx="406.96" cy="265.03" r="1.9" fill="#F07628"/>
<circle cx="418.8" cy="267.96" r="1.9" fill="#F07628"/>
<circle cx="430.64" cy="271.02" r="1.9" fill="#F07628"/>
<circle cx="442.48" cy="273.58" r="1.9" fill="#F07628"/>
<circle cx="454.32" cy="276.03" r="1.9" fill="#F07628"/>
<circle cx="466.16" cy="279.45" r="1.9" fill="#F07628"/>
<circle cx="478" cy="282.99" r="1.9" fill="#F07628"/>
<circle cx="489.84" cy="285.56" r="1.9" fill="#F07628"/>
<circle cx="501.68" cy="288.61" r="1.9" fill="#F07628"/>
<circle cx="513.52" cy="291.55" r="1.9" fill="#F07628"/>
<polyline points="324.08,282.62 335.92,278.96 347.76,273.58 359.6,267.96 371.44,262.58 383.28,257.94 395.12,253.05 406.96,248.65 418.8,244.01 430.64,239.61 442.48,234.97 454.32,229.96 466.16,223.97 478,221.4 489.84,211.38 501.68,209.43 513.52,202.95" fill="none" stroke="#A5A5A5" stroke-width="1.25" stroke-linejoin="round"/>
<rect x="322.28" y="280.82" width="3.6" height="3.6" fill="#A5A5A5"/>
<rect x="334.12" y="277.16" width="3.6" height="3.6" fill="#A5A5A5"/>
<rect x="345.96" y="271.78" width="3.6" height="3.6" fill="#A5A5A5"/>
<rect x="357.8" y="266.16" width="3.6" height="3.6" fill="#A5A5A5"/>
<rect x="369.64" y="260.78" width="3.6" height="3.6" fill="#A5A5A5"/>
<rect x="381.48" y="256.14" width="3.6" height="3.6" fill="#A5A5A5"/>
<rect x="393.32" y="251.25" width="3.6" height="3.6" fill="#A5A5A5"/>
<rect x="405.16" y="246.85" width="3.6" height="3.6" fill="#A5A5A5"/>
<rect x="417" y="242.21" width="3.6" height="3.6" fill="#A5A5A5"/>
<rect x="428.84" y="237.81" width="3.6" height="3.6" fill="#A5A5A5"/>
<rect x="440.68" y="233.17" width="3.6" height="3.6" fill="#A5A5A5"/>
<rect x="452.52" y="228.16" width="3.6" height="3.6" fill="#A5A5A5"/>
<rect x="464.36" y="222.17" width="3.6" height="3.6" fill="#A5A5A5"/>
<rect x="476.2" y="219.6" width="3.6" height="3.6" fill="#A5A5A5"/>
<rect x="488.04" y="209.58" width="3.6" height="3.6" fill="#A5A5A5"/>
<rect x="499.88" y="207.63" width="3.6" height="3.6" fill="#A5A5A5"/>
<rect x="511.72" y="201.15" width="3.6" height="3.6" fill="#A5A5A5"/>
<polyline points="324.08,283.97 335.92,280.43 347.76,275.66 359.6,270.04 371.44,265.03 383.28,261 395.12,255.01 406.96,251.59 418.8,246.94 430.64,242.54 442.48,238.02 454.32,233.38 466.16,228.61 478,228.98 489.84,218.59 501.68,216.64 513.52,211.38" fill="none" stroke="#4472C4" stroke-width="1.25" stroke-linejoin="round"/>
<path d="M322.78 282.67L325.38 285.27M322.78 285.27L325.38 282.67" stroke="#4472C4" stroke-width="1.15" fill="none"/>
<path d="M334.62 279.12L337.22 281.73M334.62 281.73L337.22 279.12" stroke="#4472C4" stroke-width="1.15" fill="none"/>
<path d="M346.46 274.36L349.06 276.96M346.46 276.96L349.06 274.36" stroke="#4472C4" stroke-width="1.15" fill="none"/>
<path d="M358.3 268.74L360.9 271.34M358.3 271.34L360.9 268.74" stroke="#4472C4" stroke-width="1.15" fill="none"/>
<path d="M370.14 263.73L372.74 266.33M370.14 266.33L372.74 263.73" stroke="#4472C4" stroke-width="1.15" fill="none"/>
<path d="M381.98 259.7L384.58 262.3M381.98 262.3L384.58 259.7" stroke="#4472C4" stroke-width="1.15" fill="none"/>
<path d="M393.82 253.71L396.42 256.31M393.82 256.31L396.42 253.71" stroke="#4472C4" stroke-width="1.15" fill="none"/>
<path d="M405.66 250.29L408.26 252.89M405.66 252.89L408.26 250.29" stroke="#4472C4" stroke-width="1.15" fill="none"/>
<path d="M417.5 245.64L420.1 248.24M417.5 248.24L420.1 245.64" stroke="#4472C4" stroke-width="1.15" fill="none"/>
<path d="M429.34 241.24L431.94 243.84M429.34 243.84L431.94 241.24" stroke="#4472C4" stroke-width="1.15" fill="none"/>
<path d="M441.18 236.72L443.78 239.32M441.18 239.32L443.78 236.72" stroke="#4472C4" stroke-width="1.15" fill="none"/>
<path d="M453.02 232.08L455.62 234.68M453.02 234.68L455.62 232.08" stroke="#4472C4" stroke-width="1.15" fill="none"/>
<path d="M464.86 227.31L467.46 229.91M464.86 229.91L467.46 227.31" stroke="#4472C4" stroke-width="1.15" fill="none"/>
<path d="M476.7 227.68L479.3 230.28M476.7 230.28L479.3 227.68" stroke="#4472C4" stroke-width="1.15" fill="none"/>
<path d="M488.54 217.29L491.14 219.89M488.54 219.89L491.14 217.29" stroke="#4472C4" stroke-width="1.15" fill="none"/>
<path d="M500.38 215.34L502.98 217.94M500.38 217.94L502.98 215.34" stroke="#4472C4" stroke-width="1.15" fill="none"/>
<path d="M512.22 210.08L514.82 212.68M512.22 212.68L514.82 210.08" stroke="#4472C4" stroke-width="1.15" fill="none"/>
<path d="M303.6 323.2H316" stroke="#4472C4" stroke-width="1.25"/>
<path d="M308.5 321.9L311.1 324.5M308.5 324.5L311.1 321.9" stroke="#4472C4" stroke-width="1.15" fill="none"/>
<text x="317.8" y="325.2" class="lg">Precision</text>
<path d="M360.4 323.2H372.7" stroke="#F07628" stroke-width="1.25"/>
<circle cx="366.55" cy="323.2" r="1.9" fill="#F07628"/>
<text x="374" y="325.2" class="lg">Recall</text>
<path d="M408.3 323.2H420.4" stroke="#A5A5A5" stroke-width="1.25"/>
<rect x="412.55" y="321.4" width="3.6" height="3.6" fill="#A5A5A5"/>
<text x="422.2" y="325.2" class="lg">Precision_meta</text>
<path d="M480.9 323.2H493.4" stroke="#FFC000" stroke-width="1.25"/>
<path d="M487.15 320.8L489.35 324.7L484.95 324.7Z" fill="#FFC000"/>
<text x="494.9" y="325.2" class="lg">Recall_meta</text>
</svg></body></html>
